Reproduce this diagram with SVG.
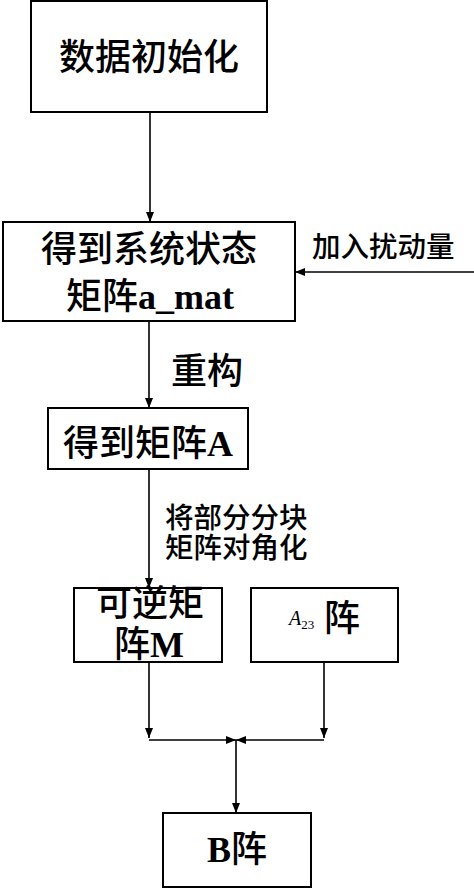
<svg xmlns="http://www.w3.org/2000/svg" width="474" height="889" viewBox="0 0 474 889">
<style>
.box{fill:#fff;stroke:#000;stroke-width:2}
.ln{fill:none;stroke:#000;stroke-width:1.6}
.t{font-family:"Liberation Serif","Noto Sans CJK SC",serif;font-weight:500;fill:#000}
.b{font-weight:bold}
.big{font-size:36px}
.lab{font-size:28.5px}
.mid{text-anchor:middle}
</style>
<defs>
<marker id="ah" viewBox="0 0 10 10" refX="10" refY="5" markerWidth="10" markerHeight="10" markerUnits="userSpaceOnUse" orient="auto">
<path d="M0,1 L10,5 L0,9 Z" fill="#000"/>
</marker>
</defs>
<rect width="474" height="889" fill="#fff"/>
<g id="connectors">
<line class="ln" x1="150" y1="112" x2="150" y2="222" marker-end="url(#ah)"/>
<line class="ln" x1="474" y1="272" x2="295" y2="272" marker-end="url(#ah)"/>
<line class="ln" x1="149" y1="321" x2="149" y2="408" marker-end="url(#ah)"/>
<line class="ln" x1="149" y1="469" x2="149" y2="588" marker-end="url(#ah)"/>
<line class="ln" x1="149" y1="662" x2="149" y2="738" marker-end="url(#ah)"/>
<line class="ln" x1="324" y1="662" x2="324" y2="738" marker-end="url(#ah)"/>
<line class="ln" x1="149" y1="740" x2="236" y2="740" marker-end="url(#ah)"/>
<line class="ln" x1="324" y1="740" x2="236" y2="740" marker-end="url(#ah)"/>
<line class="ln" x1="236" y1="740" x2="236" y2="813" marker-end="url(#ah)"/>
<text class="t lab" x="312" y="257">加入扰动量</text>
<text class="t big mid" x="207" y="384">重构</text>
<text class="t lab" x="165" y="528">将部分分块</text>
<text class="t lab" x="165" y="558">矩阵对角化</text>
</g>
<g id="n1">
<rect class="box" x="31" y="1" width="236" height="111"/>
<text class="t big mid" x="149" y="70">数据初始化</text>
</g>
<g id="n2">
<rect class="box" x="3" y="222" width="292" height="99"/>
<text class="t big mid" x="149" y="262">得到系统状态</text>
<text class="t big mid" x="150" y="309">矩阵<tspan class="b">a_mat</tspan></text>
</g>
<g id="n3">
<rect class="box" x="48" y="408" width="200" height="61"/>
<text class="t big mid" x="148" y="456">得到矩阵<tspan class="b">A</tspan></text>
</g>
<g id="n4">
<rect class="box" x="74" y="588" width="148" height="74"/>
<text class="t big mid" x="150" y="616">可逆矩</text>
<text class="t big mid" x="149" y="657">阵<tspan class="b">M</tspan></text>
</g>
<g id="n5">
<rect class="box" x="251" y="588" width="147" height="74"/>
<text class="t" x="289" y="625" font-size="20" font-style="italic" font-weight="normal">A<tspan font-size="13" dy="4" font-style="normal">23</tspan></text>
<text class="t big" x="324" y="631">阵</text>
</g>
<g id="n6">
<rect class="box" x="163" y="813" width="148" height="74"/>
<text class="t big mid" x="237" y="862"><tspan class="b">B</tspan>阵</text>
</g>
</svg>
